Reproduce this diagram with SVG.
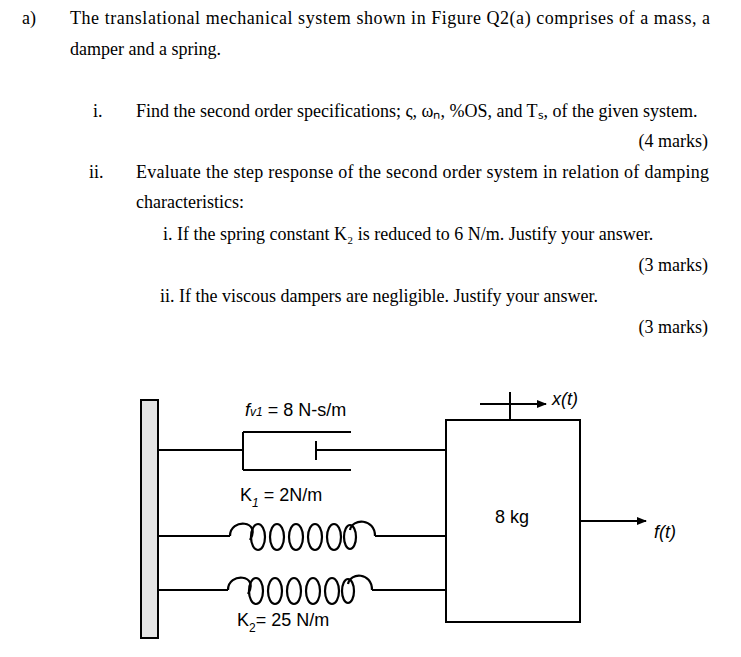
<svg xmlns="http://www.w3.org/2000/svg" width="741" height="657" viewBox="0 0 741 657">
<defs>
<style>
.t{font-family:"Liberation Serif",serif;font-size:18px;fill:#000}
.s{font-family:"Liberation Sans",Arial,sans-serif;font-size:18px;fill:#000}
.l{stroke:#000;stroke-width:2;fill:none}
.c{stroke:#000;stroke-width:2.2;fill:none}
</style>
<marker id="ah" markerWidth="10" markerHeight="8" refX="9" refY="4" orient="auto" markerUnits="userSpaceOnUse"><path d="M0,0L10,4L0,8Z" fill="#000"/></marker>
</defs>
<rect width="741" height="657" fill="#fff"/>
<g id="text">
<text class="t" x="22" y="24">a)</text>
<text class="t" x="70" y="24" textLength="640">The translational mechanical system shown in Figure Q2(a) comprises of a mass, a</text>
<text class="t" x="70" y="55">damper and a spring.</text>
<text class="t" x="93" y="117">i.</text>
<text class="t" x="136" y="117">Find the second order specifications; ς, ωₙ, %OS, and Tₛ, of the given system.</text>
<text class="t" x="708" y="147" text-anchor="end">(4 marks)</text>
<text class="t" x="89" y="178">ii.</text>
<text class="t" x="136" y="178" textLength="573">Evaluate the step response of the second order system in relation of damping</text>
<text class="t" x="136" y="208">characteristics:</text>
<text class="t" x="163" y="240">i.  If the spring constant K₂ is reduced to 6 N/m. Justify your answer.</text>
<text class="t" x="708" y="271" text-anchor="end">(3 marks)</text>
<text class="t" x="160" y="302">ii.  If the viscous dampers are negligible. Justify your answer.</text>
<text class="t" x="708" y="333" text-anchor="end">(3 marks)</text>
</g>
<g id="wall"><rect x="141" y="400" width="17" height="238" fill="#e4e4e4" stroke="#000" stroke-width="2"/></g>
<g id="mass"><rect x="446" y="420" width="134" height="202" fill="#fff" stroke="#000" stroke-width="2"/>
<text class="s" x="512" y="523" text-anchor="middle">8 kg</text></g>
<g id="damper">
<path class="l" d="M158,450H243M243,432V470M243,432H351M243,470H351M316,441V460M316,450H446"/>
<text class="s" x="245" y="416"><tspan font-style="italic">f</tspan><tspan font-style="italic" font-size="12">v1</tspan> = 8 N-s/m</text>
</g>
<g id="spring1">
<path class="l" d="M158,536H230M375,536H446"/>
<path class="c" d="M230,536C230,518 262,520 250,540M375,536C375,518 352,518 350,530"/>
<g class="c"><ellipse cx="258" cy="537" rx="7" ry="13"/><ellipse cx="277" cy="537" rx="7" ry="13"/><ellipse cx="296" cy="537" rx="7" ry="13"/><ellipse cx="315" cy="537" rx="7" ry="13"/><ellipse cx="334" cy="537" rx="7" ry="13"/><ellipse cx="350" cy="537" rx="6" ry="12"/></g>
<text class="s" x="240" y="501">K<tspan font-size="12" font-style="italic" dy="6">1</tspan><tspan dy="-6"> = 2N/m</tspan></text>
</g>
<g id="spring2">
<path class="l" d="M158,590H228M372,590H446"/>
<path class="c" d="M228,590C228,572 260,574 248,594M372,590C372,572 350,572 348,584"/>
<g class="c"><ellipse cx="256" cy="591" rx="7" ry="13"/><ellipse cx="275" cy="591" rx="7" ry="13"/><ellipse cx="294" cy="591" rx="7" ry="13"/><ellipse cx="313" cy="591" rx="7" ry="13"/><ellipse cx="332" cy="591" rx="7" ry="13"/><ellipse cx="348" cy="591" rx="6" ry="12"/></g>
<text class="s" x="237" y="626">K<tspan font-size="12" dy="6">2</tspan><tspan dy="-6">= 25 N/m</tspan></text>
</g>
<g id="connectors">
<path class="l" d="M480,404H546" marker-end="url(#ah)" stroke-width="2.5"/>
<path class="l" d="M510,392V420" stroke-width="2.5"/>
<path class="l" d="M580,521H646" marker-end="url(#ah)" stroke-width="2.5"/>
<text class="s" x="552" y="405" font-style="italic">x(t)</text>
<text class="s" x="654" y="538" font-style="italic">f(t)</text>
</g>
</svg>
